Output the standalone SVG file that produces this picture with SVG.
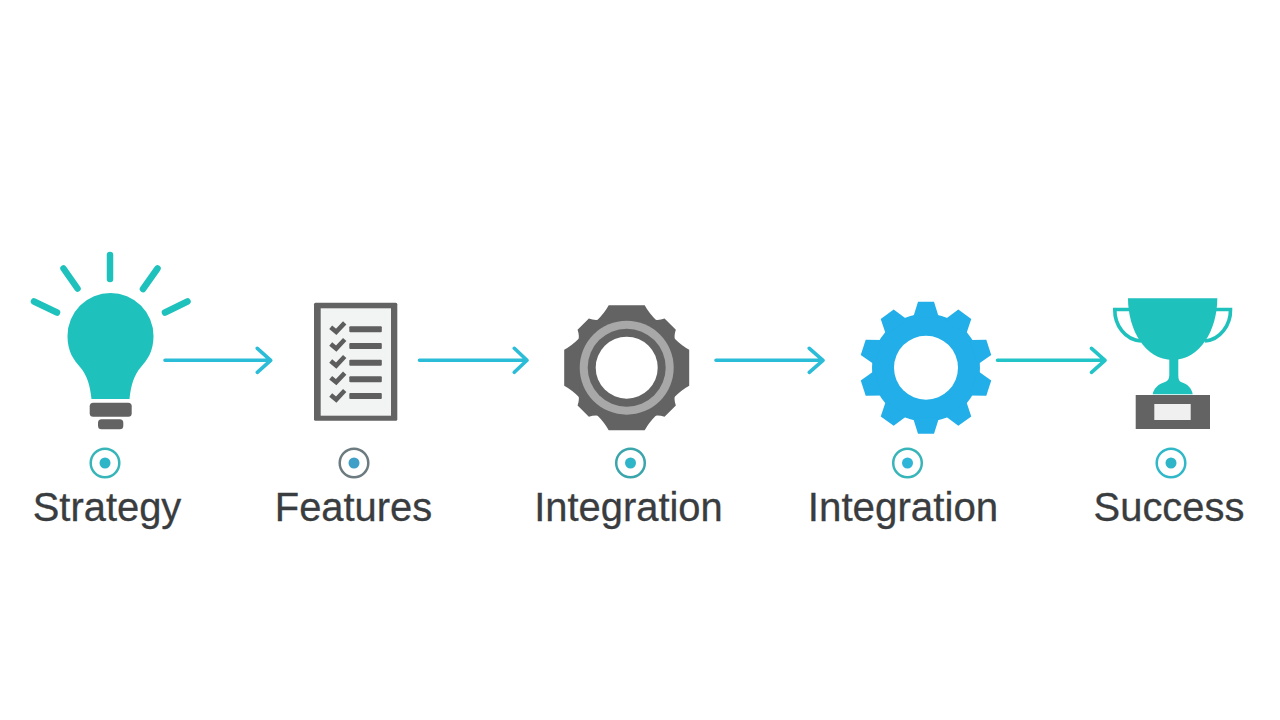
<svg xmlns="http://www.w3.org/2000/svg" width="1280" height="720" viewBox="0 0 1280 720">
<style>
.teal{fill:#1fc1bd}
.dark{fill:#636363}
.ray{stroke:#1fc1bd;stroke-width:6.5;stroke-linecap:round;fill:none}
.handle{stroke:#1fc1bd;stroke-width:3.6;fill:#fff}
.arrow{fill:none;stroke:#2bbcd8;stroke-width:3.6;stroke-linecap:round;stroke-linejoin:round}
.label{font-family:"Liberation Sans",Arial,sans-serif;font-size:39.9px;fill:#3a3d40;stroke:#3a3d40;stroke-width:.3;text-anchor:middle}
.ring{fill:#fff;stroke-width:2.5}
.check{fill:none;stroke:#5d5d5d;stroke-width:4.6}
</style>
<defs>
<polygon id="btooth" points="-13,-50 -8,-66 8,-66 13,-50" fill="#22aee8"/>
<path id="dtooth" d="M-30 -47Q-22 -55 -18 -62.500H18Q22 -55 30 -47Z" fill="#636363"/>
<path id="dtooth2" d="M-17 -52Q-11 -55 -8 -61.500H8Q11 -55 17 -52Z" fill="#636363"/>
<polyline id="tick" class="check" points="0,0 5.500,4.500 14,-4.500"/>
<rect id="bar" width="32.500" height="6" rx="1" fill="#5f5f5f"/>
</defs>
<rect width="1280" height="720" fill="#fff"/>
<g id="connectors">
<path class="arrow" d="M165 360.300H270M257.300 348.300L270.700 360.300L257.300 372.300"/>
<path class="arrow" d="M419.500 360.300H526M514.300 348.300L527 360.300L514.300 372.300"/>
<path class="arrow" d="M716 360.300H822M809.300 348.300L823 360.300L809.300 372.300"/>
<path class="arrow" style="stroke:#22c4c8" d="M997.500 360.300H1104M1091.500 348.300L1105 360.300L1091.500 372.300"/>
</g>
<g id="node-strategy">
<line class="ray" x1="110" y1="255" x2="110" y2="279"/>
<line class="ray" x1="63.500" y1="268.500" x2="77.500" y2="288.500"/>
<line class="ray" x1="157.500" y1="268.500" x2="143" y2="289"/>
<line class="ray" x1="34" y1="301.500" x2="57" y2="312.500"/>
<line class="ray" x1="187.500" y1="301.500" x2="165" y2="312.500"/>
<path class="teal" d="M91.500 399C90 385 87 375 80 367C74 360 67.500 352 67.500 336A43 43 0 1 1 153.500 336C153.500 352 147 360 141 367C134 375 131 385 129.500 399Z"/>
<rect class="dark" x="89.700" y="402.700" width="42" height="14" rx="3.500"/>
<rect class="dark" x="98" y="419.300" width="25.300" height="10" rx="3.500"/>
<circle class="ring" cx="105" cy="463" r="14.300" stroke="#38b5b9"/>
<circle cx="105" cy="463" r="5.500" fill="#2fb5c8"/>
<text class="label" x="107" y="521">Strategy</text>
</g>
<g id="node-features">
<rect x="314" y="302.700" width="83.300" height="118" rx="1.500" fill="#636363"/>
<rect x="320.700" y="308.300" width="70.300" height="107.400" fill="#f2f3f3"/>
<use href="#tick" x="330.700" y="327.300"/>
<use href="#tick" x="330.700" y="344"/>
<use href="#tick" x="330.700" y="361"/>
<use href="#tick" x="330.700" y="377.700"/>
<use href="#tick" x="330.700" y="395"/>
<use href="#bar" x="349.300" y="326.300"/>
<use href="#bar" x="349.300" y="343"/>
<use href="#bar" x="349.300" y="359.700"/>
<use href="#bar" x="349.300" y="376.300"/>
<use href="#bar" x="349.300" y="393"/>
<circle class="ring" cx="354" cy="463" r="14.300" stroke="#6b7b80"/>
<circle cx="354" cy="463" r="5.500" fill="#3f9fc6"/>
<text class="label" x="353.500" y="521">Features</text>
</g>
<g id="node-integration-1">
<g transform="translate(626.700 367.700)">
<circle r="55.500" fill="#636363"/>
<use href="#dtooth"/>
<use href="#dtooth2" transform="rotate(45)"/>
<use href="#dtooth" transform="rotate(90)"/>
<use href="#dtooth2" transform="rotate(135)"/>
<use href="#dtooth" transform="rotate(180)"/>
<use href="#dtooth2" transform="rotate(225)"/>
<use href="#dtooth" transform="rotate(270)"/>
<use href="#dtooth2" transform="rotate(315)"/>
<circle r="47" fill="#a8a8a8"/>
<circle r="39" fill="#636363"/>
<circle r="31" fill="#fff"/>
</g>
<circle class="ring" cx="630.500" cy="463" r="14.300" stroke="#3aa5ab"/>
<circle cx="630.500" cy="463" r="5.500" fill="#2fb5c8"/>
<text class="label" x="628.500" y="521">Integration</text>
</g>
<g id="node-integration-2">
<g transform="translate(926 367.700)">
<circle r="54" fill="#22aee8"/>
<use href="#btooth"/>
<use href="#btooth" transform="rotate(36)"/>
<use href="#btooth" transform="rotate(72)"/>
<use href="#btooth" transform="rotate(108)"/>
<use href="#btooth" transform="rotate(144)"/>
<use href="#btooth" transform="rotate(180)"/>
<use href="#btooth" transform="rotate(216)"/>
<use href="#btooth" transform="rotate(252)"/>
<use href="#btooth" transform="rotate(288)"/>
<use href="#btooth" transform="rotate(324)"/>
<circle r="32" fill="#fff"/>
</g>
<circle class="ring" cx="907.500" cy="463" r="14.300" stroke="#38b5b9"/>
<circle cx="907.500" cy="463" r="5.500" fill="#2fb5d8"/>
<text class="label" x="903" y="521" style="font-size:40.300px">Integration</text>
</g>
<g id="node-success">
<path class="handle" d="M1130 309.500H1114.800C1114.500 325 1125 340 1141 341"/>
<path class="handle" d="M1215 309.500H1230.500C1230.800 325 1220 340 1205 341"/>
<path class="teal" d="M1128 298.300H1217.300C1217.300 330 1200 360 1172.700 360C1145 360 1128 330 1128 298.300Z"/>
<path class="teal" d="M1169.300 358H1178.300V374C1178.300 379 1179 381 1181 382C1188 384 1192 389 1192.700 394.300H1152.700C1153.500 389 1158 384 1165 382C1168 381 1169.300 379 1169.300 374Z"/>
<rect class="dark" x="1135.700" y="395" width="74.300" height="34"/>
<rect x="1154.300" y="404" width="36.400" height="16" fill="#f0f0f0"/>
<circle class="ring" cx="1171" cy="463" r="14.300" stroke="#30b8c8"/>
<circle cx="1171" cy="463" r="5.500" fill="#2fb5c8"/>
<text class="label" x="1169" y="521">Success</text>
</g>
</svg>
